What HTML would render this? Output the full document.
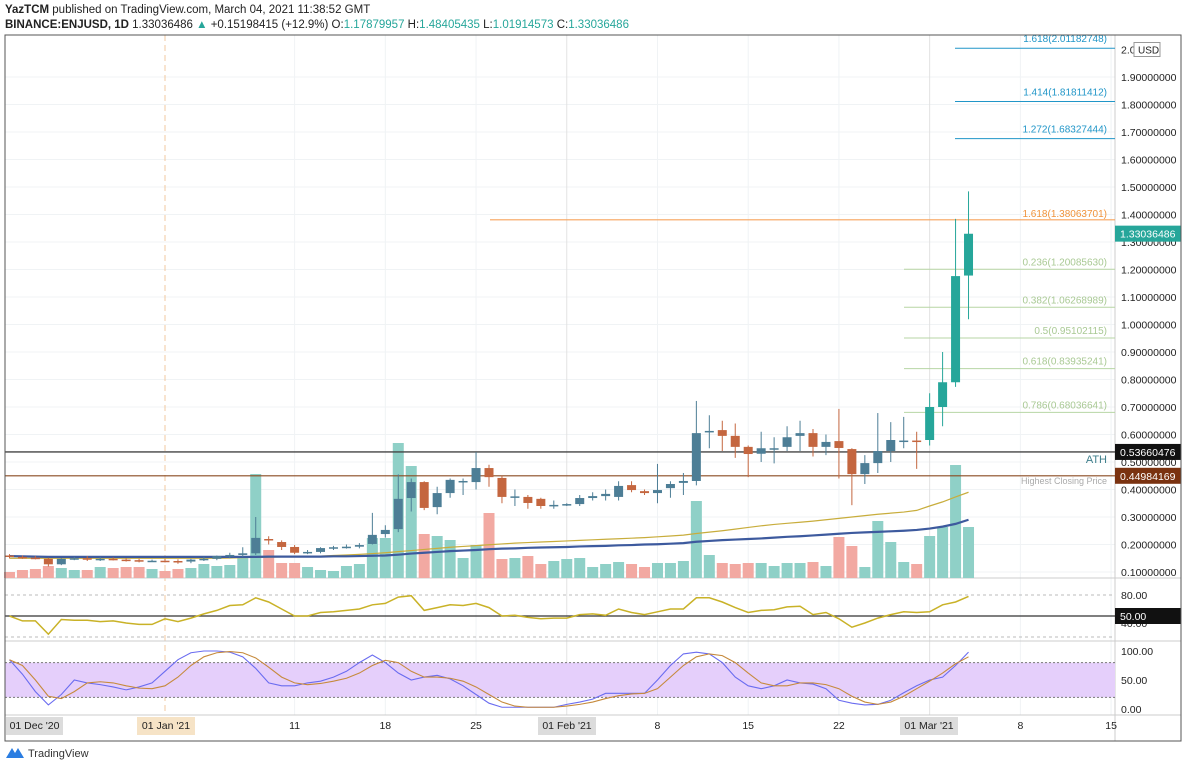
<!DOCTYPE html>
<html><head><meta charset="utf-8"><style>
body{margin:0;background:#fff;font-family:"Liberation Sans",sans-serif;}
svg text{font-family:"Liberation Sans",sans-serif;}
</style></head><body>
<svg id="c" width="1186" height="768" viewBox="0 0 1186 768" xmlns="http://www.w3.org/2000/svg">
<text x="5" y="13" font-size="11.5" fill="#222"><tspan font-weight="bold">YazTCM</tspan> published on TradingView.com, March 04, 2021 11:38:52 GMT</text>
<text x="5" y="28" font-size="11.5" fill="#222"><tspan font-weight="bold">BINANCE:ENJUSD, 1D</tspan> 1.33036486 <tspan fill="#26a69a">▲</tspan> +0.15198415 (+12.9%) O:<tspan fill="#26a69a">1.17879957</tspan> H:<tspan fill="#26a69a">1.48405435</tspan> L:<tspan fill="#26a69a">1.01914573</tspan> C:<tspan fill="#26a69a">1.33036486</tspan></text>
<g id="grid"></g>
<g id="main"></g>
<g id="ind"></g>
<g id="axes"></g>
<rect x="5" y="35" width="1176" height="706" fill="none" stroke="#555" stroke-width="1"/>
<g><path d="M6 758 L12 748 L15 753 L18 748 L24 758 Z" fill="#2a7de1"/><text x="28" y="757" font-size="11" fill="#333">TradingView</text></g>
</svg>
<script>
const candleDays=[];for(let d=-12;d<=62;d++)candleDays.push(d);
const opens=[.16,.155,.152,.148,.128,.148,.15,.148,.148,.145,.143,.14,.141,.14,.138,.145,.148,.158,.162,.168,.22,.209,.191,.17,.173,.187,.19,.192,.202,.238,.256,.369,.427,.336,.387,.428,.427,.478,.442,.373,.373,.366,.344,.344,.347,.369,.376,.373,.416,.394,.387,.405,.424,.431,.609,.616,.595,.555,.53,.548,.555,.595,.605,.555,.576,.547,.456,.496,.54,.575,.578,.58,.70,.79,1.178];
const highs=[.165,.16,.158,.152,.15,.155,.158,.155,.153,.15,.148,.145,.148,.146,.148,.155,.16,.17,.19,.30,.23,.215,.198,.18,.19,.195,.2,.205,.315,.27,.455,.44,.43,.41,.44,.44,.536,.49,.45,.4,.38,.37,.36,.35,.38,.39,.4,.43,.43,.4,.493,.43,.46,.722,.67,.65,.64,.56,.61,.59,.63,.65,.62,.6,.693,.55,.525,.678,.645,.664,.61,.75,.90,1.384,1.484];
const lows=[.15,.148,.146,.12,.125,.143,.14,.14,.142,.138,.135,.137,.135,.13,.132,.14,.143,.15,.155,.162,.2,.18,.165,.165,.168,.18,.185,.186,.2,.225,.245,.32,.325,.31,.37,.38,.4,.41,.35,.34,.33,.33,.33,.34,.34,.36,.36,.36,.39,.38,.35,.37,.38,.415,.55,.54,.515,.445,.5,.495,.54,.54,.52,.525,.44,.343,.42,.46,.5,.55,.475,.56,.63,.773,1.019];
const closes=[.158,.152,.15,.128,.148,.15,.148,.148,.145,.143,.14,.141,.14,.138,.145,.148,.158,.162,.168,.224,.216,.191,.17,.173,.187,.19,.192,.198,.235,.253,.366,.427,.333,.387,.435,.431,.478,.445,.373,.375,.351,.34,.344,.347,.369,.376,.384,.413,.398,.387,.398,.42,.431,.605,.613,.595,.555,.529,.55,.55,.59,.605,.555,.573,.551,.456,.496,.54,.58,.578,.575,.70,.79,1.176,1.33];
const volumes=[6,8,9,12,10,8,8,11,10,11,11,9,7,9,10,14,12,13,20,104,28,15,15,11,8,7,12,14,40,40,135,112,44,42,38,20,33,65,19,20,22,14,17,19,20,11,14,16,14,11,15,15,17,77,23,15,14,15,15,12,15,15,16,12,41,32,11,57,36,16,14,42,51,113,51];
const maYellow=[.15,.15,.15,.15,.15,.15,.15,.15,.15,.15,.15,.15,.15,.15,.15,.15,.15,.151,.152,.153,.154,.155,.156,.157,.158,.16,.162,.164,.167,.17,.174,.178,.182,.186,.19,.193,.196,.199,.202,.205,.207,.209,.211,.213,.215,.217,.219,.221,.223,.225,.228,.231,.234,.24,.245,.25,.256,.262,.268,.273,.277,.281,.285,.29,.295,.3,.305,.31,.314,.318,.324,.34,.355,.373,.39];
const maBlue=[.158,.157,.156,.155,.155,.155,.155,.155,.155,.155,.155,.155,.155,.155,.155,.155,.155,.155,.155,.155,.156,.156,.156,.156,.156,.157,.157,.158,.159,.16,.163,.167,.17,.173,.176,.178,.18,.183,.185,.186,.188,.189,.19,.191,.193,.194,.195,.197,.198,.2,.201,.203,.205,.21,.213,.216,.218,.22,.222,.225,.228,.23,.233,.236,.239,.242,.244,.246,.248,.25,.253,.258,.265,.275,.29];
const rsi=[50,43,43,24,45,44,44,42,43,40,38,38,46,42,47,53,58,65,66,76,70,60,50,50,55,56,58,60,66,68,77,79,58,62,66,65,68,62,50,51,48,46,47,47,52,53,51,60,55,52,56,60,60,76,76,70,62,55,58,59,63,64,52,55,46,34,40,47,52,56,55,56,66,70,78];
const stochK=[85,60,30,7,25,50,45,42,38,33,38,45,65,85,97,100,100,98,90,70,45,40,40,45,48,55,65,80,93,80,62,50,55,58,52,40,25,10,3,3,3,3,3,8,12,17,27,27,27,27,50,75,95,98,95,80,55,40,35,40,50,45,43,35,15,10,7,8,15,28,40,50,55,75,98];
const stochD=[85,75,50,22,18,30,45,47,45,40,36,35,40,55,75,90,97,99,97,88,72,55,45,42,44,48,53,62,75,84,80,65,55,55,53,48,38,25,12,5,3,3,3,5,8,12,18,23,26,27,35,55,75,90,95,92,80,62,45,40,40,45,45,42,35,22,12,8,12,22,35,48,62,78,90];
const priceTicks=[0.1,0.2,0.3,0.4,0.5,0.6,0.7,0.8,0.9,1.0,1.1,1.2,1.3,1.4,1.5,1.6,1.7,1.8,1.9];
const timeTicks=[[10,"11"],[17,"18"],[24,"25"],[38,"8"],[45,"15"],[52,"22"],[66,"8"],[73,"15"]];

const NS="http://www.w3.org/2000/svg";
const X=d=>165+d*12.96;
const Y=p=>599.5-275*p;
const YR=v=>651-0.7*v;
const YS=v=>709-0.58*v;
function mk(parent,tag,attrs,txt){const e=document.createElementNS(NS,tag);for(const k in attrs)e.setAttribute(k,attrs[k]);if(txt!==undefined)e.textContent=txt;document.getElementById(parent).appendChild(e);return e;}

// grid
for(const p of priceTicks){const l=mk('grid','line',{x1:5,x2:1115,y1:Y(p),y2:Y(p),stroke:'#f0f3f5'});

}
for(const [d] of timeTicks.concat([[31],[59]])){const l=mk('grid','line',{x1:X(d),x2:X(d),y1:35,y2:715,stroke:(d==31||d==59)?'#e2e2e2':'#f0f3f5'});

}
{const l=mk('grid','line',{x1:165,x2:165,y1:35,y2:715,stroke:'#f0c9a0','stroke-dasharray':'6,4'});

}
// pane separators
for(const y of [578,641]){const l=mk('grid','line',{x1:5,x2:1181,y1:y,y2:y,stroke:'#ccc'});

}
{const l=mk('grid','line',{x1:1115,x2:1115,y1:35,y2:741,stroke:'#ccc'});

}
{const l=mk('grid','line',{x1:5,x2:1181,y1:715,y2:715,stroke:'#ccc'});

}

// volume
candleDays.forEach((d,i)=>{const up=closes[i]>=opens[i];const h=volumes[i];
const r=mk('main','rect',{x:X(d)-5.5,y:578-h,width:11,height:h,fill:up?'#8fd0c7':'#f2a9a2'});

});

// MAs
function poly(g,arr,fy,stroke,w,name){const pts=candleDays.map((d,i)=>X(d)+','+fy(arr[i])).join(' ');
const p=mk(g,'polyline',{points:pts,fill:'none',stroke:stroke,'stroke-width':w});

}
poly('main',maYellow,Y,'#c8ad3c',1.2,'ma-yellow');
poly('main',maBlue,Y,'#3d5a9e',2.2,'ma-blue');

// horizontal levels
{const l=mk('main','line',{x1:5,x2:1115,y1:Y(0.53660476),y2:Y(0.53660476),stroke:'#444','stroke-width':1.3});

}
{const l=mk('main','line',{x1:5,x2:1115,y1:Y(0.44984169),y2:Y(0.44984169),stroke:'#8a4a20','stroke-width':1.2});

}
{const l=mk('main','line',{x1:490,x2:1115,y1:Y(1.38063701),y2:Y(1.38063701),stroke:'#f7a35c','stroke-width':1.2});

}
const fibG=[[1.2008563,'0.236(1.20085630)'],[1.06268989,'0.382(1.06268989)'],[0.95102115,'0.5(0.95102115)'],[0.83935241,'0.618(0.83935241)'],[0.68036641,'0.786(0.68036641)']];
for(const [v,t] of fibG){const l=mk('main','line',{x1:904,x2:1115,y1:Y(v),y2:Y(v),stroke:'#b7d6a4'});


const tx=mk('main','text',{x:1107,y:Y(v)-4,'font-size':10,fill:'#a9c994','text-anchor':'end'},t);

}
{const tx=mk('main','text',{x:1107,y:Y(1.38063701)-3,'font-size':10,fill:'#f0933c','text-anchor':'end'},'1.618(1.38063701)');

}
const fibB=[[2.01182748,'1.618(2.01182748)'],[1.81811412,'1.414(1.81811412)'],[1.68327444,'1.272(1.68327444)']];
for(const [v,t] of fibB){const l=mk('main','line',{x1:955,x2:1115,y1:Y(v)+2,y2:Y(v)+2,stroke:'#2196c8'});


const tx=mk('main','text',{x:1107,y:Y(v)-4,'font-size':10,fill:'#2196c8','text-anchor':'end'},t);

}
{const tx=mk('main','text',{x:1107,y:463,'font-size':11,fill:'#3f7f8c','text-anchor':'end'},'ATH');

}
{const tx=mk('main','text',{x:1107,y:484,'font-size':9,fill:'#aaa','text-anchor':'end'},'Highest Closing Price');

}

// candles
candleDays.forEach((d,i)=>{const up=closes[i]>=opens[i];const col=up?(i>=71?'#26a69a':'#4d7e96'):'#c4663f';
const w=mk('main','line',{x1:X(d),x2:X(d),y1:Y(highs[i]),y2:Y(lows[i]),stroke:col,'stroke-width':1});


const top=Y(Math.max(opens[i],closes[i])),bot=Y(Math.min(opens[i],closes[i]));
const b=mk('main','rect',{x:X(d)-4.5,y:top,width:9,height:Math.max(1.5,bot-top),fill:col});

});

// RSI
for(const v of [80,20]){const l=mk('ind','line',{x1:5,x2:1115,y1:YR(v),y2:YR(v),stroke:'#bbb','stroke-dasharray':'3,3'});

}
{const l=mk('ind','line',{x1:5,x2:1115,y1:YR(50),y2:YR(50),stroke:'#333','stroke-width':1.3});

}
poly('ind',rsi,YR,'#c9b227',1.5,'rsi-line');
// Stoch
{const r=mk('ind','rect',{x:5,y:YS(80),width:1110,height:YS(20)-YS(80),fill:'#e5cffb'});

}
for(const v of [80,20]){const l=mk('ind','line',{x1:5,x2:1115,y1:YS(v),y2:YS(v),stroke:'#777','stroke-dasharray':'2,2'});

}
poly('ind',stochK,YS,'#6a6cf0',1.1,'stoch-k-line');
poly('ind',stochD,YS,'#c68a3c',1.1,'stoch-d-line');

// price axis
for(const p of priceTicks){const t=mk('axes','text',{x:1121,y:Y(p)+4,'font-size':10.5,fill:'#222'},p.toFixed(8));

}
{const t=mk('axes','text',{x:1121,y:Y(2)+4,'font-size':10.5,fill:'#222'},'2.0');

}
{const r=mk('axes','rect',{x:1134,y:Y(2)-7,width:26,height:14,fill:'#fff',stroke:'#999'});


const t=mk('axes','text',{x:1138,y:Y(2)+4,'font-size':10,fill:'#222'},'USD');

}
function badge(y,txt,bg,name){const r=mk('axes','rect',{x:1115,y:y-8,width:66,height:16,fill:bg});


const t=mk('axes','text',{x:1120,y:y+4,'font-size':10.5,fill:'#fff'},txt);

}
badge(Y(1.33036486),'1.33036486','#26a69a','last-price-badge');
badge(Y(0.53660476),'0.53660476','#111','ath-badge');
badge(Y(0.44984169),'0.44984169','#7a3210','highest-close-badge');
{const t=mk('axes','text',{x:1121,y:YR(80)+4,'font-size':10.5,fill:'#222'},'80.00');

}
{const t=mk('axes','text',{x:1121,y:YR(40)+4,'font-size':10.5,fill:'#222'},'40.00');

}
badge(YR(50),'50.00','#111','rsi-50-badge');
for(const v of [100,50,0]){const t=mk('axes','text',{x:1121,y:YS(v)+4,'font-size':10.5,fill:'#222'},v.toFixed(2));

}

// time axis
for(const [d,t] of timeTicks){const e=mk('axes','text',{x:X(d),y:729,'font-size':10.5,fill:'#222','text-anchor':'middle'},t);

}
function tbox(x,w,txt,bg,name){const r=mk('axes','rect',{x:x,y:717,width:w,height:18,fill:bg});


const t=mk('axes','text',{x:x+w/2,y:729,'font-size':10.5,fill:'#222','text-anchor':'middle'},txt);

}
tbox(6,57,"01 Dec '20",'#dcdcdc','time-label-dec');
tbox(137,58,"01 Jan '21",'#f6e3c6','time-label-jan');
tbox(538,58,"01 Feb '21",'#dcdcdc','time-label-feb');
tbox(900,58,"01 Mar '21",'#dcdcdc','time-label-mar');
</script>
</body></html>
